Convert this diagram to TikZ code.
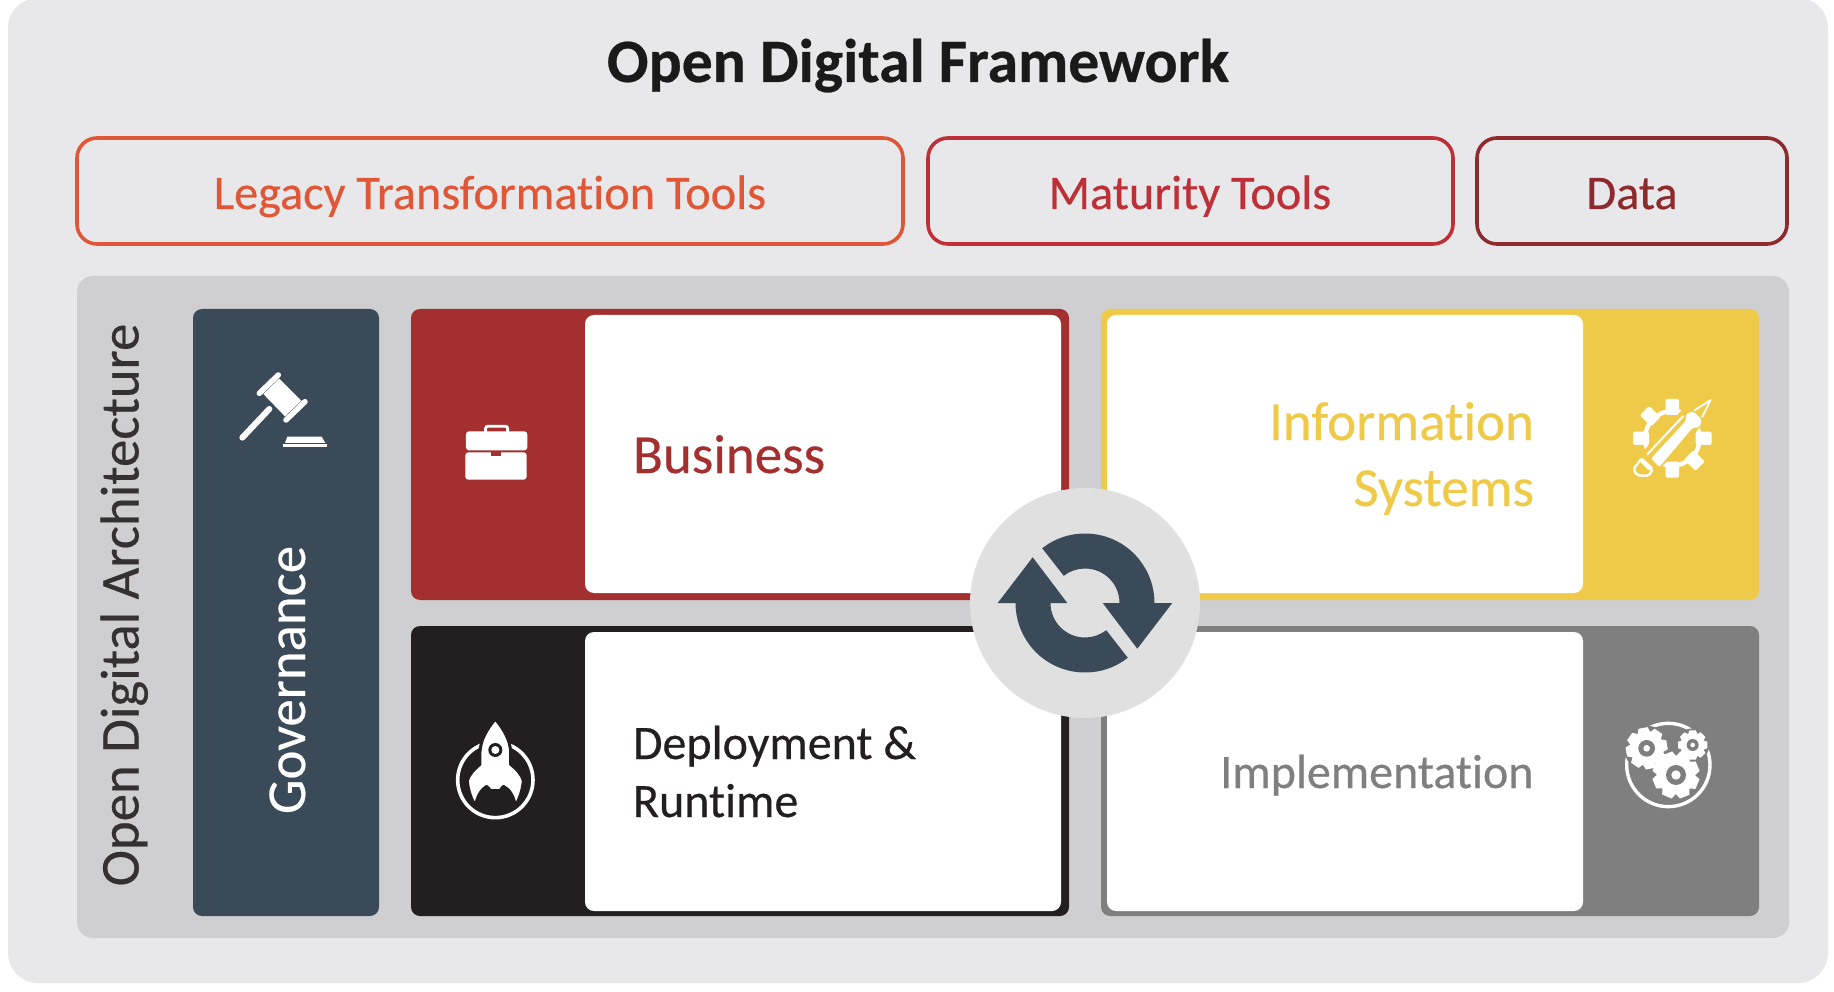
\documentclass[tikz,border=0pt]{standalone}
\usepackage{fontspec}
\setmainfont[Ligatures=NoCommon,FakeBold=0.4,BoldFeatures={FakeBold=0.4}]{Carlito}
\definecolor{bgc}{HTML}{E8E8EA}
\definecolor{panelc}{HTML}{CFCFD1}
\definecolor{govc}{HTML}{3B4A58}
\definecolor{redc}{HTML}{A32F2F}
\definecolor{blackc}{HTML}{231F20}
\definecolor{yelc}{HTML}{EFCA48}
\definecolor{grayc}{HTML}{7F7F7F}
\definecolor{legc}{HTML}{DF5737}
\definecolor{matc}{HTML}{BE3038}
\definecolor{datc}{HTML}{8D2A2E}
\definecolor{circc}{HTML}{E0E0E0}
\definecolor{titc}{HTML}{1A1A1A}
\newcommand{\fsz}[1]{\fontsize{#1}{#1}\selectfont}
% gear: centre x,y; tooth tip radius, body radius, hole, dot, rotation
\newcommand{\cog}[7]{%
  \begin{scope}[shift={(#1,#2)}]
    \foreach \a in {0,45,...,315}{
      \fill[white,rotate=\a+#7] (#3,-#3*0.22) -- (#3,#3*0.22) -- (#4*0.9,#3*0.32) -- (#4*0.9,-#3*0.32) -- cycle;
    }
    \fill[white] (0,0) circle[radius=#4];
    \fill[grayc] (0,0) circle[radius=#5];
    \fill[white] (0,0) circle[radius=#6];
  \end{scope}}
\tikzset{
  top box/.style={rounded corners=20pt,line width=3.6pt,fill=bgc},
  pane/.style={rounded corners=9pt},
  card/.style={fill=white,rounded corners=9pt},
  lbl/.style={inner sep=0pt,outer sep=0pt,anchor=base,font=\fsz{48.3}},
  zoomed/.style={x=0.3333pt,y=-0.3333pt},
}
\begin{document}
\begin{tikzpicture}[x=1pt,y=-1pt]
\useasboundingbox (0,0) rectangle (1834,992);
\fill[white] (0,0) rectangle (1834,992);
% frame
\begin{scope}
\clip (0,0) rectangle (1834,992);
\fill[bgc,rounded corners=30pt] (8,-2) rectangle (1828,983);
\end{scope}
\node[lbl,font=\fsz{61.7}\bfseries,text=titc] (title) at (918,82) {Open Digital Framework};
% top boxes
\draw[top box,draw=legc] (77,138) rectangle (903,244);
\node[lbl,text=legc] (legacy) at (490,209) {Legacy Transformation Tools};
\draw[top box,draw=matc] (928,138) rectangle (1453,244);
\node[lbl,text=matc] (maturity) at (1190,209) {Maturity Tools};
\draw[top box,draw=datc] (1477,138) rectangle (1787,244);
\node[lbl,text=datc] (data) at (1632,209) {Data};
% main panel
\fill[panelc,rounded corners=16pt] (77,276) rectangle (1789,938);
\node[lbl,rotate=90,text=blackc!92!white,font=\fsz{54.8}] (arch) at (138.5,605) {Open Digital Architecture};
\fill[govc,pane] (193,309) rectangle (379,916);
\node[lbl,rotate=90,text=white,font=\fsz{54.8}] (gov) at (305,680) {Governance};
% panes
\fill[redc,pane] (411,309) rectangle (1069,600);
\fill[card] (585,315) rectangle (1061,593);
\node[lbl,anchor=base west,text=redc,font=\fsz{55}] (business) at (633,473) {Business};
\fill[yelc,pane] (1101,309) rectangle (1759,600);
\fill[card] (1107,315) rectangle (1583,593);
\node[lbl,anchor=base east,text=yelc,font=\fsz{55}] (info) at (1534,440) {Information};
\node[lbl,anchor=base east,text=yelc,font=\fsz{55}] (systems) at (1534,506) {Systems};
\fill[blackc,pane] (411,626) rectangle (1069,916);
\fill[card] (585,632) rectangle (1061,911);
\node[lbl,anchor=base west,text=blackc,font=\fsz{48}] (deploy) at (633,759) {Deployment \&};
\node[lbl,anchor=base west,text=blackc,font=\fsz{48}] (runtime) at (633,817) {Runtime};
\fill[grayc,pane] (1101,626) rectangle (1759,916);
\fill[card] (1107,632) rectangle (1583,911);
\node[lbl,anchor=base east,text=grayc,font=\fsz{48}] (impl) at (1533.5,788) {Implementation};
% hub
\fill[circc] (1085,603) circle[radius=115];
\begin{scope}[shift={(1085,603)},y=1pt]
  \foreach \r in {0,180}{
    \fill[govc,rotate=\r] (128:69.5) arc[start angle=128,end angle=0,radius=69.5]
      -- (87.3,0) -- (52.3,-45.7) -- (17.7,0) -- (34.5,0)
      arc[start angle=0,end angle=128,radius=34.5] -- cycle;
  }
\end{scope}
% gavel
\begin{scope}[shift={(180,340)},zoomed]
  \draw[white,line width=6pt,line cap=round] (187,293) -- (268,207);
  \fill[white] (250,162) -- (298,116) -- (364,182) -- (315,229) -- cycle;
  \draw[white,line width=5.5pt,line cap=round] (238,160) -- (295,105);
  \draw[white,line width=5.5pt,line cap=round] (318,240) -- (375,185);
  \fill[white] (322,290) -- (425,290) -- (436,309) -- (315,309) -- cycle;
  \fill[white] (308,312) -- (442,312) -- (442,321) -- (308,321) -- cycle;
\end{scope}
% briefcase
\begin{scope}[shift={(180,340)},zoomed]
  \draw[white,line width=2.8pt,rounded corners=2pt] (917,278) -- (917,259) -- (983,259) -- (983,278);
  \fill[white,rounded corners=3pt] (858,331) -- (858,274) -- (1042,274) -- (1042,331) -- cycle;
  \fill[white,rounded corners=3pt] (856,337) -- (856,419) -- (1040,419) -- (1040,337) -- cycle;
  \fill[redc] (934,336) rectangle (963,349);
\end{scope}
% rocket
\begin{scope}[shift={(420,690)},zoomed]
  \draw[white,line width=3.6pt] (226,270) circle[radius=113];
  \draw[blackc,line width=3pt,fill=white,line join=round]
    (226,87) .. controls (252,118) and (270,150) .. (272,185)
    -- (272,223) .. controls (291,238) and (306,255) .. (310,272)
    .. controls (308,300) and (298,328) .. (286,348)
    .. controls (282,322) and (270,298) .. (250,289)
    -- (240,302) -- (212,302) -- (200,289)
    .. controls (183,298) and (171,322) .. (166,348)
    .. controls (154,328) and (144,300) .. (142,272)
    .. controls (146,255) and (162,238) .. (180,223)
    -- (180,185) .. controls (182,150) and (200,118) .. (226,87) -- cycle;
  \fill[blackc] (226,180) circle[radius=21];
  \fill[white] (226,180) circle[radius=12];
\end{scope}
% gear and pencil
\begin{scope}[shift={(1600,380)},zoomed]
  \foreach \a in {0,45,...,315}{
    \fill[white,rounded corners=1.5pt,rotate around={\a:(217,175)}] (197,57) rectangle (237,105);
  }
  \draw[white,line width=4.4pt] (217,175) circle[radius=82];
  \fill[yelc] (118,226) -- (248,88) -- (332,60) -- (307,135) -- (172,274) -- cycle;
  \draw[white,line width=2pt] (141,224) -- (250,108);
  \fill[white,rounded corners=2pt] (153,236) -- (258,122) -- (257,102) -- (280,94) -- (306,120) -- (298,143) -- (278,143) -- (178,261) -- cycle;
  \draw[white,line width=1.8pt,line join=round] (282,92) -- (332,60) -- (306,112);
  \draw[white,line width=2.4pt,rounded corners=2pt] (124,236) -- (158,268) -- (146,288) -- (112,286) -- (100,268) -- cycle;
\end{scope}
% gears in ring
\begin{scope}[shift={(1600,700)},zoomed]
  \draw[white,line width=3.4pt] (205,195) circle[radius=125];
  \fill[grayc] (140,145) circle[radius=68];
  \fill[grayc] (278,135) circle[radius=50];
  \fill[grayc] (228,225) circle[radius=74];
  \cog{140}{145}{62}{50}{25}{10}{10}
  \cog{278}{135}{44}{35}{18}{7}{0}
  \cog{228}{225}{70}{57}{30}{14}{22}
\end{scope}
\end{tikzpicture}
\end{document}
